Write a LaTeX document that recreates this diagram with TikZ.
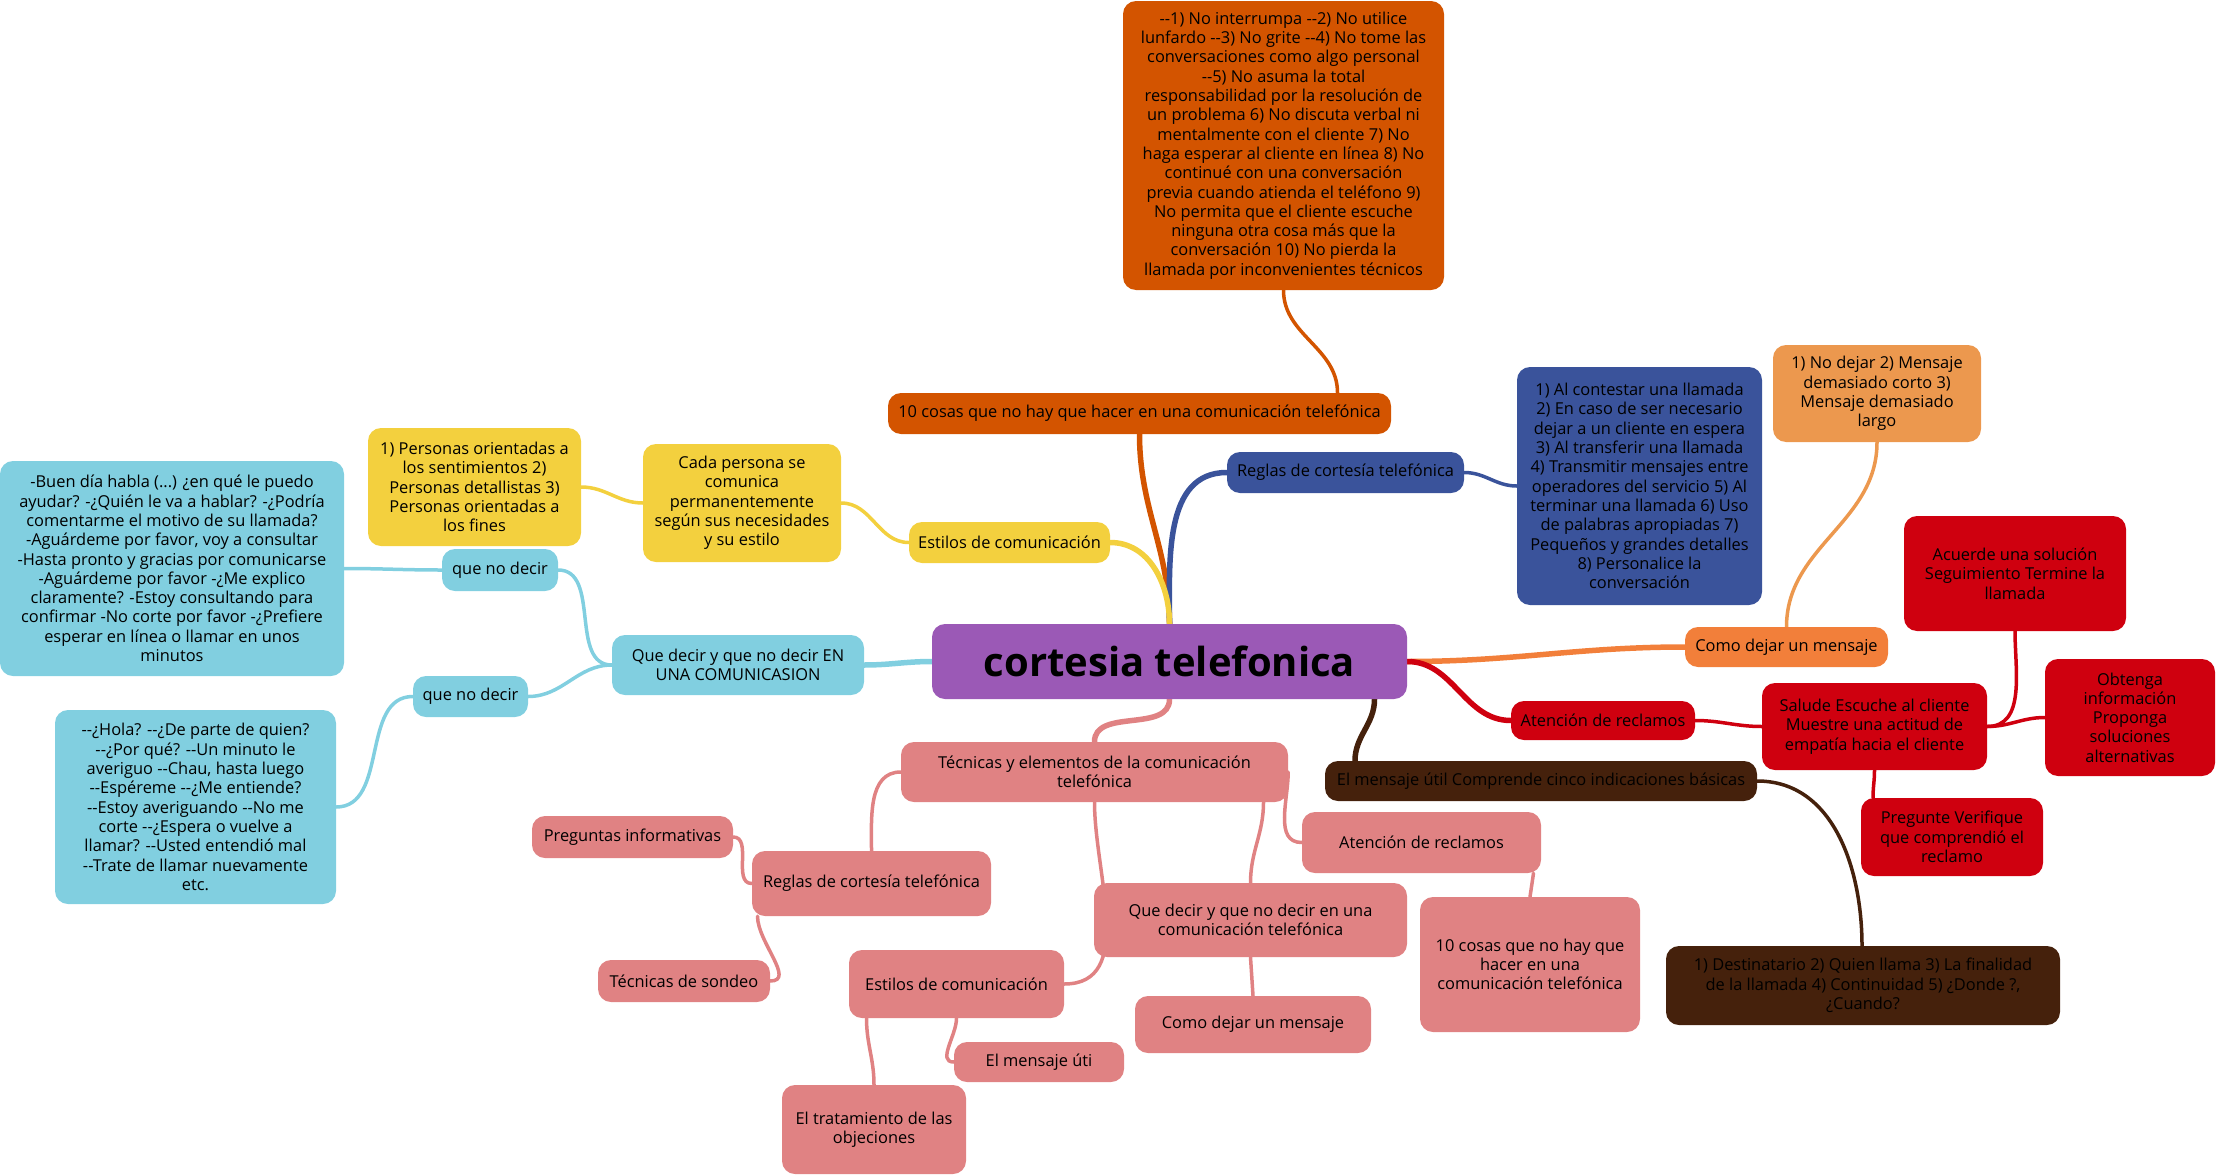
\documentclass[tikz,border=0pt]{standalone}
\usepackage{fontspec}
\newfontfamily\osans{Open Sans}
\usepackage{xcolor}
\usepackage{tikz}
\usetikzlibrary{backgrounds}
\definecolor{purp}{HTML}{9B59B6}
\definecolor{orgd}{HTML}{D35400}
\definecolor{blu}{HTML}{3A539B}
\definecolor{yel}{HTML}{F3D03E}
\definecolor{lbl}{HTML}{81CFE0}
\definecolor{org}{HTML}{F27F3A}
\definecolor{orgl}{HTML}{EC984E}
\definecolor{rd}{HTML}{CF000F}
\definecolor{brn}{HTML}{45210C}
\definecolor{pnk}{HTML}{E08283}

\begin{document}
\begin{tikzpicture}[x=1pt,y=1pt,
	box/.style={rounded corners=13pt, fill=#1, align=center, inner sep=2pt, text=black, font=\osans\fontsize{16.4}{19.3}\selectfont},
	link/.style={draw=#1, line width=3.5pt, line cap=round},
	trunk/.style={draw=#1, line width=5.5pt, line cap=round}]
	\useasboundingbox (0,0) rectangle (2217,-1175);

	\node[box=purp, minimum width=475, minimum height=75, font=\osans\bfseries\fontsize{40}{48}\selectfont] (ct) at (1169.5,-661.5) {cortesia telefonica};

	\node[box=orgd, minimum width=503, minimum height=41] (ten) at (1139.5,-413.5) {10 cosas que no hay que hacer en una comunicación telefónica};
	\node[box=orgd, minimum width=321, minimum height=289] (tenx) at (1283.5,-145.5) {-{}-1) No interrumpa -{}-2) No utilice\\lunfardo -{}-3) No grite -{}-4) No tome las\\conversaciones como algo personal\\-{}-5) No asuma la total\\responsabilidad por la resolución de\\un problema 6) No discuta verbal ni\\mentalmente con el cliente 7) No\\haga esperar al cliente en línea 8) No\\continué con una conversación\\previa cuando atienda el teléfono 9)\\No permita que el cliente escuche\\ninguna otra cosa más que la\\conversación 10) No pierda la\\llamada por inconvenientes técnicos};

	\node[box=blu, minimum width=237, minimum height=41] (rg) at (1345.5,-472.5) {Reglas de cortesía telefónica};
	\node[box=blu, minimum width=245, minimum height=238] (rgx) at (1639.5,-486) {1) Al contestar una llamada\\2) En caso de ser necesario\\dejar a un cliente en espera\\3) Al transferir una llamada\\4) Transmitir mensajes entre\\operadores del servicio 5) Al\\terminar una llamada 6) Uso\\de palabras apropiadas 7)\\Pequeños y grandes detalles\\8) Personalice la\\conversación};

	\node[box=yel, minimum width=201, minimum height=41] (es) at (1009.5,-542.5) {Estilos de comunicación};
	\node[box=yel, minimum width=198, minimum height=118] (esp) at (742,-503) {Cada persona se\\comunica\\permanentemente\\según sus necesidades\\y su estilo};
	\node[box=yel, minimum width=213, minimum height=118] (esx) at (474.5,-487) {1) Personas orientadas a\\los sentimientos 2)\\Personas detallistas 3)\\Personas orientadas a\\los fines};

	\node[box=lbl, minimum width=252, minimum height=60] (qd) at (738,-665) {Que decir y que no decir EN\\UNA COMUNICASION};
	\node[box=lbl, minimum width=116, minimum height=42] (qa) at (500,-570) {que no decir};
	\node[box=lbl, minimum width=115, minimum height=41] (qb) at (470.5,-696.5) {que no decir};
	\node[box=lbl, minimum width=344, minimum height=215] (qax) at (172,-568.5) {-Buen día habla (...) ¿en qué le puedo\\ayudar? -¿Quién le va a hablar? -¿Podría\\comentarme el motivo de su llamada?\\-Aguárdeme por favor, voy a consultar\\-Hasta pronto y gracias por comunicarse\\-Aguárdeme por favor -¿Me explico\\claramente? -Estoy consultando para\\confirmar -No corte por favor -¿Prefiere\\esperar en línea o llamar en unos\\minutos};
	\node[box=lbl, minimum width=281, minimum height=194] (qbx) at (195.5,-807) {-{}-¿Hola? -{}-¿De parte de quien?\\-{}-¿Por qué? -{}-Un minuto le\\averiguo -{}-Chau, hasta luego\\-{}-Espéreme -{}-¿Me entiende?\\-{}-Estoy averiguando -{}-No me\\corte -{}-¿Espera o vuelve a\\llamar? -{}-Usted entendió mal\\-{}-Trate de llamar nuevamente\\etc.};

	\node[box=org, minimum width=203, minimum height=40] (cm) at (1786.5,-647) {Como dejar un mensaje};
	\node[box=orgl, minimum width=208, minimum height=97] (cmx) at (1877,-393.5) {1) No dejar 2) Mensaje\\demasiado corto 3)\\Mensaje demasiado\\largo};

	\node[box=rd, minimum width=184, minimum height=39] (at) at (1603,-720.5) {Atención de reclamos};
	\node[box=rd, minimum width=225, minimum height=87] (sa) at (1874.5,-726.5) {Salude Escuche al cliente\\Muestre una actitud de\\empatía hacia el cliente};
	\node[box=rd, minimum width=222, minimum height=115] (ac) at (2015,-573.5) {Acuerde una solución\\Seguimiento Termine la\\llamada};
	\node[box=rd, minimum width=170, minimum height=117] (ob) at (2130,-717.5) {Obtenga\\información\\Proponga\\soluciones\\alternativas};
	\node[box=rd, minimum width=182, minimum height=78] (pr) at (1952,-837) {Pregunte Verifique\\que comprendió el\\reclamo};

	\node[box=brn, minimum width=432, minimum height=40] (ms) at (1541,-781) {El mensaje útil Comprende cinco indicaciones básicas};
	\node[box=brn, minimum width=394, minimum height=79] (msx) at (1863,-985.5) {1) Destinatario 2) Quien llama 3) La finalidad\\de la llamada 4) Continuidad 5) ¿Donde ?,\\¿Cuando?};

	\node[box=pnk, minimum width=387, minimum height=60] (te) at (1094.5,-772) {Técnicas y elementos de la comunicación\\telefónica};
	\node[box=pnk, minimum width=201, minimum height=42] (pi) at (632.5,-837) {Preguntas informativas};
	\node[box=pnk, minimum width=239, minimum height=65] (rp) at (871.5,-883.5) {Reglas de cortesía telefónica};
	\node[box=pnk, minimum width=172, minimum height=42] (so) at (684,-981) {Técnicas de sondeo};
	\node[box=pnk, minimum width=215, minimum height=68] (ep) at (956.5,-984) {Estilos de comunicación};
	\node[box=pnk, minimum width=170, minimum height=40] (mu) at (1039,-1062) {El mensaje úti};
	\node[box=pnk, minimum width=184, minimum height=89] (tr) at (874,-1129.5) {El tratamiento de las\\objeciones};
	\node[box=pnk, minimum width=239, minimum height=61] (ap) at (1421.5,-842.5) {Atención de reclamos};
	\node[box=pnk, minimum width=313, minimum height=74] (qp) at (1250.5,-920) {Que decir y que no decir en una\\comunicación telefónica};
	\node[box=pnk, minimum width=220, minimum height=135] (tp) at (1530,-964.5) {10 cosas que no hay que\\hacer en una\\comunicación telefónica};
	\node[box=pnk, minimum width=236, minimum height=57] (cp) at (1253,-1024.5) {Como dejar un mensaje};

	\begin{scope}[on background layer]
		\draw[trunk=orgd] (ct.north) to[out=90,in=-90] (ten.south);
		\draw[trunk=blu] (ct.north) to[out=90,in=180] (rg.west);
		\draw[trunk=yel] (ct.north) to[out=90,in=0] (es.east);
		\draw[trunk=lbl] (ct.west) to[out=180,in=0] (qd.east);
		\draw[trunk=org] (ct.east) to[out=0,in=180] (cm.west);
		\draw[trunk=rd] (ct.east) to[out=0,in=180] (at.west);
		\draw[trunk=pnk] (ct.south) to[out=-90,in=90] (te.north);
		\draw[trunk=brn] ([xshift=205pt]ct.south) to[out=-90,in=90] ([xshift=-186pt]ms.north);

		\draw[link=orgd] ([xshift=198pt]ten.north) to[out=90,in=-90] (tenx.south);
		\draw[link=blu] (rg.east) to[out=0,in=180] (rgx.west);
		\draw[link=orgl] (cm.north) to[out=90,in=-90] (cmx.south);
		\draw[link=rd] (at.east) to[out=0,in=180] (sa.west);
		\draw[link=rd] (sa.east) to[out=0,in=-90] (ac.south);
		\draw[link=rd] (sa.east) to[out=0,in=180] (ob.west);
		\draw[link=rd] (sa.south) to[out=-90,in=90] ([xshift=-79pt]pr.north);
		\draw[link=brn] (ms.east) to[out=0,in=90] ([xshift=-1pt]msx.north);
		\draw[link=yel] (es.west) to[out=180,in=0] (esp.east);
		\draw[link=yel] (esp.west) to[out=180,in=0] (esx.east);
		\draw[link=lbl] (qd.west) to[out=180,in=0] (qa.east);
		\draw[link=lbl] (qd.west) to[out=180,in=0] (qb.east);
		\draw[link=lbl] (qa.west) to[out=180,in=0] (qax.east);
		\draw[link=lbl] (qb.west) to[out=180,in=0] (qbx.east);
		\draw[link=pnk] (te.west) to[out=180,in=90] (rp.north);
		\draw[link=pnk] (te.south) to[out=-90,in=0] (ep.east);
		\draw[link=pnk] ([xshift=169pt]te.south) to[out=-90,in=90] (qp.north);
		\draw[link=pnk] (te.east) to[out=-90,in=180] (ap.west);
		\draw[link=pnk] (rp.west) to[out=180,in=0] (pi.east);
		\draw[link=pnk] ([xshift=-114pt]rp.south) to[out=-90,in=0] (so.east);
		\draw[link=pnk] (ep.south) to[out=-90,in=180] (mu.west);
		\draw[link=pnk] ([xshift=-90pt]ep.south) to[out=-90,in=90] (tr.north);
		\draw[link=pnk] (qp.south) -- (cp.north);
		\draw[link=pnk] ([xshift=112pt]ap.south) -- (tp.north);
	\end{scope}
\end{tikzpicture}
\end{document}
